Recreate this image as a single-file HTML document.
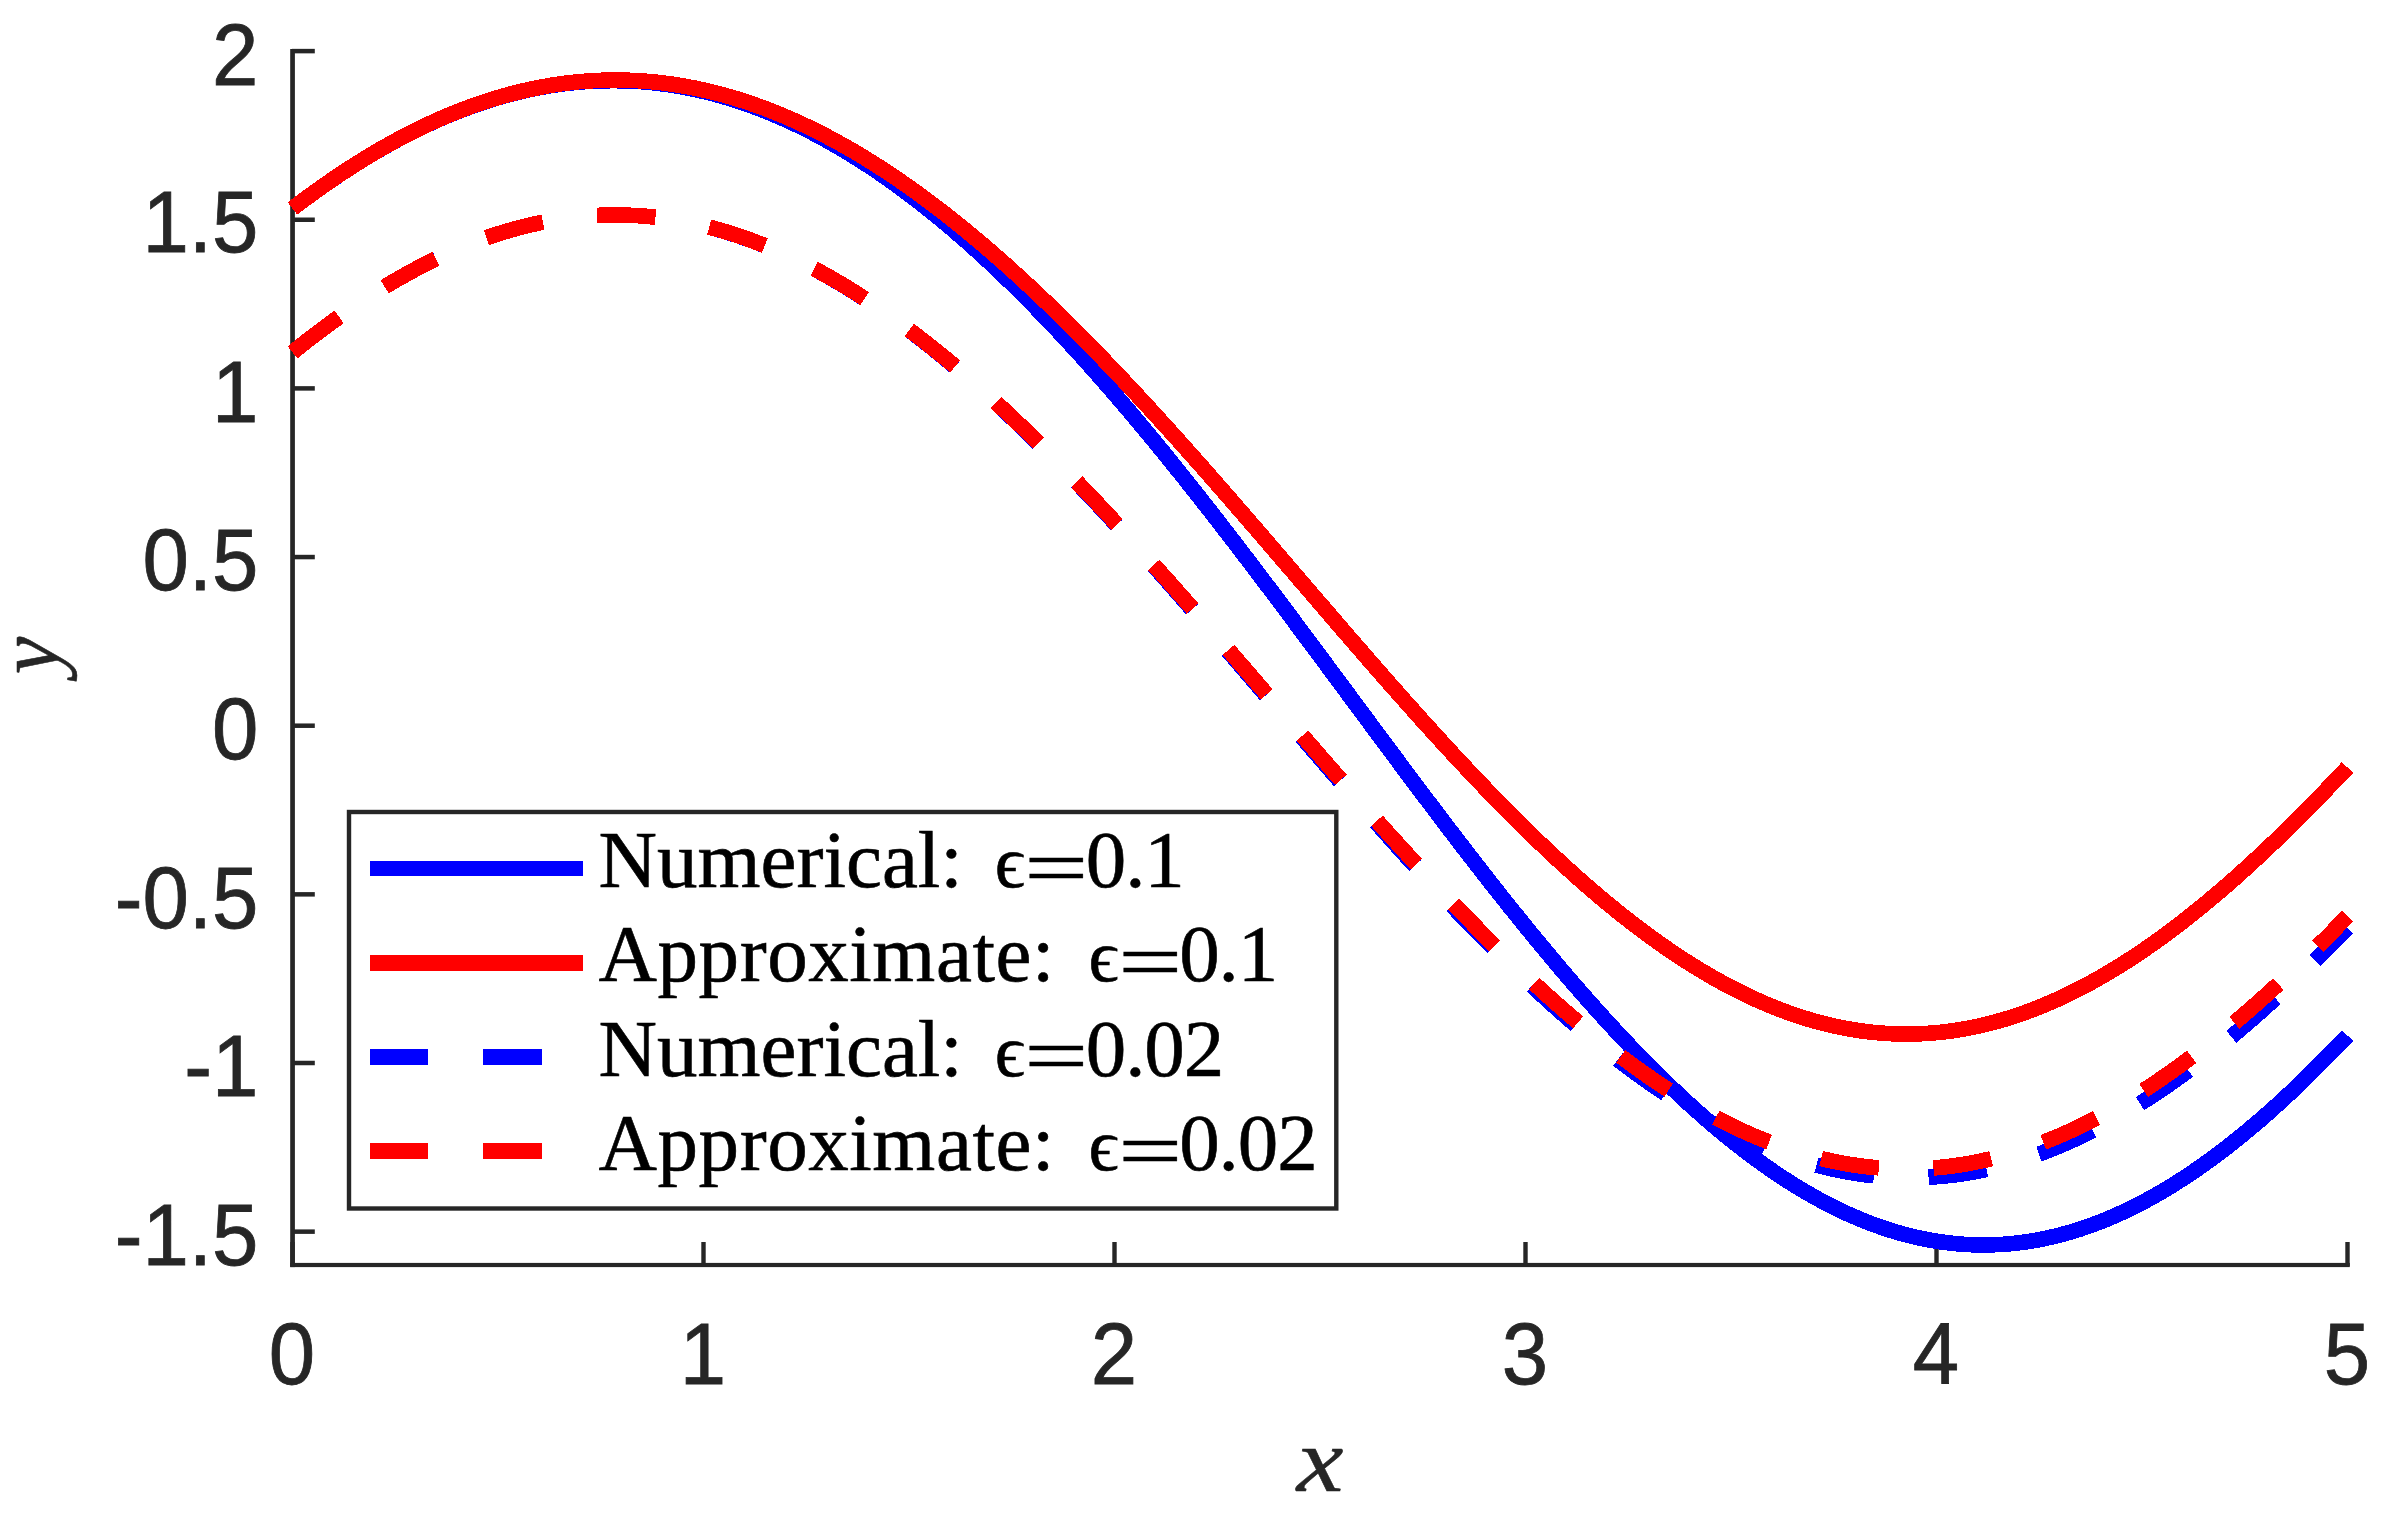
<!DOCTYPE html>
<html><head><meta charset="utf-8"><title>plot</title>
<style>html,body{margin:0;padding:0;background:#fff}svg{display:block}.t{font-family:"Liberation Sans",sans-serif;font-size:87px;fill:#262626;stroke:#262626;stroke-width:0.8px}.l{font-family:"Liberation Serif",serif;font-size:81px;fill:#000;stroke:#000;stroke-width:0.6px}.m{font-family:"Liberation Serif",serif;font-style:italic;fill:#262626;stroke:#262626;stroke-width:0.6px}</style></head><body>
<svg width="2400" height="1518" viewBox="0 0 2400 1518">
<rect width="2400" height="1518" fill="#fff"/>
<g fill="#262626">
<rect x="290.2" y="49" width="4.7" height="1218.1"/>
<rect x="290.2" y="1262.9" width="2059.6" height="4.2"/>
<rect x="292" y="48.85" width="22.8" height="4.5"/>
<rect x="292" y="217.50" width="22.8" height="4.5"/>
<rect x="292" y="386.15" width="22.8" height="4.5"/>
<rect x="292" y="554.80" width="22.8" height="4.5"/>
<rect x="292" y="723.45" width="22.8" height="4.5"/>
<rect x="292" y="892.10" width="22.8" height="4.5"/>
<rect x="292" y="1060.75" width="22.8" height="4.5"/>
<rect x="292" y="1229.40" width="22.8" height="4.5"/>
<rect x="290.3" y="1242" width="4.4" height="24"/>
<rect x="701.3" y="1242" width="4.4" height="24"/>
<rect x="1112.3" y="1242" width="4.4" height="24"/>
<rect x="1523.3" y="1242" width="4.4" height="24"/>
<rect x="1934.3" y="1242" width="4.4" height="24"/>
<rect x="2345.3" y="1242" width="4.4" height="24"/>
</g>
<g fill="none" stroke-width="15.6" stroke-linejoin="round" shape-rendering="crispEdges">
<path d="M292.50,208.51 L297.64,204.60 L302.77,200.74 L307.91,196.94 L313.05,193.20 L318.19,189.51 L323.32,185.87 L328.46,182.29 L333.60,178.77 L338.74,175.30 L343.88,171.89 L349.01,168.54 L354.15,165.24 L359.29,162.01 L364.43,158.83 L369.56,155.71 L374.70,152.65 L379.84,149.65 L384.98,146.71 L390.11,143.83 L395.25,141.01 L400.39,138.25 L405.52,135.55 L410.66,132.92 L415.80,130.34 L420.94,127.83 L426.08,125.38 L431.21,122.99 L436.35,120.67 L441.49,118.41 L446.62,116.21 L451.76,114.08 L456.90,112.01 L462.04,110.00 L467.18,108.06 L472.31,106.18 L477.45,104.37 L482.59,102.62 L487.73,100.94 L492.86,99.33 L498.00,97.78 L503.14,96.29 L508.27,94.88 L513.41,93.53 L518.55,92.24 L523.69,91.03 L528.83,89.87 L533.96,88.79 L539.10,87.78 L544.24,86.83 L549.38,85.95 L554.51,85.13 L559.65,84.39 L564.79,83.71 L569.92,83.10 L575.06,82.56 L580.20,82.09 L585.34,81.68 L590.48,81.35 L595.61,81.08 L600.75,80.88 L605.89,80.75 L611.03,80.69 L616.16,80.70 L621.30,80.78 L626.44,80.92 L631.58,81.14 L636.71,81.42 L641.85,81.78 L646.99,82.20 L652.12,82.69 L657.26,83.26 L662.40,83.89 L667.54,84.59 L672.67,85.36 L677.81,86.20 L682.95,87.11 L688.09,88.09 L693.23,89.13 L698.36,90.25 L703.50,91.44 L708.64,92.69 L713.78,94.02 L718.91,95.41 L724.05,96.87 L729.19,98.40 L734.33,100.00 L739.46,101.67 L744.60,103.41 L749.74,105.22 L754.88,107.09 L760.01,109.03 L765.15,111.05 L770.29,113.13 L775.42,115.27 L780.56,117.49 L785.70,119.77 L790.84,122.12 L795.98,124.54 L801.11,127.03 L806.25,129.58 L811.39,132.20 L816.53,134.88 L821.66,137.64 L826.80,140.46 L831.94,143.34 L837.08,146.29 L842.21,149.31 L847.35,152.39 L852.49,155.54 L857.62,158.75 L862.76,162.02 L867.90,165.36 L873.04,168.77 L878.18,172.24 L883.31,175.77 L888.45,179.36 L893.59,183.02 L898.73,186.74 L903.86,190.52 L909.00,194.37 L914.14,198.27 L919.28,202.24 L924.41,206.27 L929.55,210.36 L934.69,214.51 L939.83,218.71 L944.96,222.98 L950.10,227.31 L955.24,231.69 L960.38,236.13 L965.51,240.63 L970.65,245.19 L975.79,249.80 L980.93,254.47 L986.06,259.20 L991.20,263.98 L996.34,268.81 L1001.48,273.70 L1006.61,278.65 L1011.75,283.64 L1016.89,288.69 L1022.03,293.79 L1027.16,298.95 L1032.30,304.15 L1037.44,309.41 L1042.58,314.71 L1047.71,320.07 L1052.85,325.47 L1057.99,330.92 L1063.12,336.42 L1068.26,341.96 L1073.40,347.56 L1078.54,353.19 L1083.68,358.88 L1088.81,364.60 L1093.95,370.38 L1099.09,376.19 L1104.22,382.05 L1109.36,387.94 L1114.50,393.88 L1119.64,399.86 L1124.78,405.88 L1129.91,411.94 L1135.05,418.04 L1140.19,424.17 L1145.33,430.34 L1150.46,436.55 L1155.60,442.79 L1160.74,449.06 L1165.88,455.37 L1171.01,461.71 L1176.15,468.09 L1181.29,474.49 L1186.43,480.93 L1191.56,487.39 L1196.70,493.89 L1201.84,500.41 L1206.97,506.96 L1212.11,513.53 L1217.25,520.13 L1222.39,526.76 L1227.53,533.41 L1232.66,540.08 L1237.80,546.77 L1242.94,553.48 L1248.08,560.22 L1253.21,566.97 L1258.35,573.74 L1263.49,580.53 L1268.62,587.33 L1273.76,594.15 L1278.90,600.99 L1284.04,607.83 L1289.18,614.69 L1294.31,621.57 L1299.45,628.45 L1304.59,635.34 L1309.72,642.24 L1314.86,649.15 L1320.00,656.06 L1325.14,662.98 L1330.28,669.91 L1335.41,676.84 L1340.55,683.77 L1345.69,690.70 L1350.83,697.64 L1355.96,704.57 L1361.10,711.50 L1366.24,718.43 L1371.38,725.36 L1376.51,732.28 L1381.65,739.20 L1386.79,746.11 L1391.93,753.01 L1397.06,759.90 L1402.20,766.79 L1407.34,773.66 L1412.48,780.52 L1417.61,787.37 L1422.75,794.20 L1427.89,801.02 L1433.03,807.83 L1438.16,814.61 L1443.30,821.38 L1448.44,828.13 L1453.58,834.86 L1458.71,841.57 L1463.85,848.25 L1468.99,854.92 L1474.12,861.55 L1479.26,868.17 L1484.40,874.75 L1489.54,881.31 L1494.68,887.84 L1499.81,894.34 L1504.95,900.81 L1510.09,907.25 L1515.23,913.65 L1520.36,920.02 L1525.50,926.36 L1530.64,932.66 L1535.78,938.92 L1540.91,945.15 L1546.05,951.33 L1551.19,957.48 L1556.33,963.59 L1561.46,969.65 L1566.60,975.67 L1571.74,981.65 L1576.88,987.58 L1582.01,993.47 L1587.15,999.30 L1592.29,1005.10 L1597.43,1010.84 L1602.56,1016.53 L1607.70,1022.17 L1612.84,1027.76 L1617.98,1033.30 L1623.11,1038.78 L1628.25,1044.21 L1633.39,1049.59 L1638.53,1054.90 L1643.66,1060.16 L1648.80,1065.37 L1653.94,1070.51 L1659.08,1075.59 L1664.21,1080.61 L1669.35,1085.57 L1674.49,1090.47 L1679.62,1095.31 L1684.76,1100.08 L1689.90,1104.78 L1695.04,1109.42 L1700.18,1114.00 L1705.31,1118.50 L1710.45,1122.94 L1715.59,1127.31 L1720.73,1131.61 L1725.86,1135.84 L1731.00,1140.00 L1736.14,1144.09 L1741.28,1148.10 L1746.41,1152.04 L1751.55,1155.91 L1756.69,1159.70 L1761.83,1163.42 L1766.96,1167.06 L1772.10,1170.62 L1777.24,1174.11 L1782.38,1177.52 L1787.51,1180.85 L1792.65,1184.10 L1797.79,1187.28 L1802.93,1190.37 L1808.06,1193.38 L1813.20,1196.31 L1818.34,1199.16 L1823.48,1201.93 L1828.61,1204.61 L1833.75,1207.21 L1838.89,1209.73 L1844.03,1212.17 L1849.16,1214.52 L1854.30,1216.78 L1859.44,1218.96 L1864.58,1221.06 L1869.71,1223.06 L1874.85,1224.99 L1879.99,1226.82 L1885.12,1228.57 L1890.26,1230.23 L1895.40,1231.80 L1900.54,1233.29 L1905.68,1234.69 L1910.81,1236.00 L1915.95,1237.22 L1921.09,1238.35 L1926.23,1239.39 L1931.36,1240.35 L1936.50,1241.21 L1941.64,1241.99 L1946.78,1242.67 L1951.91,1243.27 L1957.05,1243.77 L1962.19,1244.19 L1967.33,1244.52 L1972.46,1244.75 L1977.60,1244.90 L1982.74,1244.95 L1987.88,1244.92 L1993.01,1244.80 L1998.15,1244.58 L2003.29,1244.28 L2008.42,1243.89 L2013.56,1243.40 L2018.70,1242.83 L2023.84,1242.17 L2028.98,1241.41 L2034.11,1240.57 L2039.25,1239.64 L2044.39,1238.62 L2049.53,1237.51 L2054.66,1236.31 L2059.80,1235.03 L2064.94,1233.65 L2070.07,1232.19 L2075.21,1230.64 L2080.35,1229.01 L2085.49,1227.28 L2090.62,1225.47 L2095.76,1223.57 L2100.90,1221.59 L2106.04,1219.52 L2111.18,1217.37 L2116.31,1215.13 L2121.45,1212.81 L2126.59,1210.40 L2131.73,1207.91 L2136.86,1205.33 L2142.00,1202.67 L2147.14,1199.93 L2152.28,1197.11 L2157.41,1194.21 L2162.55,1191.22 L2167.69,1188.16 L2172.82,1185.02 L2177.96,1181.79 L2183.10,1178.49 L2188.24,1175.11 L2193.38,1171.66 L2198.51,1168.12 L2203.65,1164.51 L2208.79,1160.83 L2213.93,1157.07 L2219.06,1153.23 L2224.20,1149.33 L2229.34,1145.35 L2234.48,1141.29 L2239.61,1137.17 L2244.75,1132.98 L2249.89,1128.71 L2255.03,1124.38 L2260.16,1119.98 L2265.30,1115.51 L2270.44,1110.98 L2275.57,1106.38 L2280.71,1101.71 L2285.85,1096.98 L2290.99,1092.19 L2296.12,1087.33 L2301.26,1082.41 L2306.40,1077.43 L2311.54,1072.39 L2316.68,1067.30 L2321.81,1062.14 L2326.95,1056.93 L2332.09,1051.66 L2337.23,1046.34 L2342.36,1040.96 L2347.50,1035.53" stroke="#0000ff"/>
<path d="M292.50,208.51 L297.64,204.60 L302.77,200.74 L307.91,196.94 L313.05,193.19 L318.19,189.50 L323.32,185.86 L328.46,182.28 L333.60,178.75 L338.74,175.28 L343.88,171.87 L349.01,168.51 L354.15,165.21 L359.29,161.97 L364.43,158.79 L369.56,155.66 L374.70,152.60 L379.84,149.59 L384.98,146.65 L390.11,143.76 L395.25,140.93 L400.39,138.17 L405.52,135.46 L410.66,132.82 L415.80,130.24 L420.94,127.72 L426.08,125.27 L431.21,122.87 L436.35,120.54 L441.49,118.27 L446.62,116.07 L451.76,113.93 L456.90,111.85 L462.04,109.83 L467.18,107.88 L472.31,106.00 L477.45,104.18 L482.59,102.42 L487.73,100.73 L492.86,99.11 L498.00,97.55 L503.14,96.05 L508.27,94.63 L513.41,93.26 L518.55,91.97 L523.69,90.74 L528.83,89.57 L533.96,88.48 L539.10,87.45 L544.24,86.48 L549.38,85.59 L554.51,84.76 L559.65,83.99 L564.79,83.30 L569.92,82.67 L575.06,82.10 L580.20,81.61 L585.34,81.18 L590.48,80.82 L595.61,80.53 L600.75,80.31 L605.89,80.15 L611.03,80.06 L616.16,80.04 L621.30,80.08 L626.44,80.19 L631.58,80.37 L636.71,80.62 L641.85,80.94 L646.99,81.32 L652.12,81.77 L657.26,82.29 L662.40,82.87 L667.54,83.52 L672.67,84.24 L677.81,85.03 L682.95,85.88 L688.09,86.80 L693.23,87.79 L698.36,88.84 L703.50,89.96 L708.64,91.14 L713.78,92.40 L718.91,93.71 L724.05,95.10 L729.19,96.55 L734.33,98.07 L739.46,99.65 L744.60,101.29 L749.74,103.01 L754.88,104.78 L760.01,106.63 L765.15,108.53 L770.29,110.50 L775.42,112.54 L780.56,114.64 L785.70,116.80 L790.84,119.03 L795.98,121.32 L801.11,123.67 L806.25,126.08 L811.39,128.56 L816.53,131.10 L821.66,133.70 L826.80,136.37 L831.94,139.09 L837.08,141.88 L842.21,144.72 L847.35,147.63 L852.49,150.60 L857.62,153.62 L862.76,156.71 L867.90,159.85 L873.04,163.05 L878.18,166.31 L883.31,169.63 L888.45,173.01 L893.59,176.44 L898.73,179.93 L903.86,183.48 L909.00,187.08 L914.14,190.74 L919.28,194.45 L924.41,198.21 L929.55,202.03 L934.69,205.91 L939.83,209.83 L944.96,213.81 L950.10,217.84 L955.24,221.93 L960.38,226.06 L965.51,230.24 L970.65,234.48 L975.79,238.76 L980.93,243.09 L986.06,247.48 L991.20,251.90 L996.34,256.38 L1001.48,260.90 L1006.61,265.47 L1011.75,270.09 L1016.89,274.75 L1022.03,279.45 L1027.16,284.20 L1032.30,288.99 L1037.44,293.82 L1042.58,298.70 L1047.71,303.61 L1052.85,308.57 L1057.99,313.56 L1063.12,318.60 L1068.26,323.67 L1073.40,328.79 L1078.54,333.93 L1083.68,339.12 L1088.81,344.34 L1093.95,349.60 L1099.09,354.89 L1104.22,360.21 L1109.36,365.57 L1114.50,370.96 L1119.64,376.38 L1124.78,381.83 L1129.91,387.31 L1135.05,392.82 L1140.19,398.36 L1145.33,403.92 L1150.46,409.51 L1155.60,415.13 L1160.74,420.77 L1165.88,426.44 L1171.01,432.13 L1176.15,437.84 L1181.29,443.58 L1186.43,449.33 L1191.56,455.11 L1196.70,460.90 L1201.84,466.72 L1206.97,472.55 L1212.11,478.39 L1217.25,484.25 L1222.39,490.13 L1227.53,496.02 L1232.66,501.93 L1237.80,507.84 L1242.94,513.77 L1248.08,519.71 L1253.21,525.65 L1258.35,531.61 L1263.49,537.57 L1268.62,543.54 L1273.76,549.52 L1278.90,555.50 L1284.04,561.48 L1289.18,567.46 L1294.31,573.45 L1299.45,579.44 L1304.59,585.43 L1309.72,591.42 L1314.86,597.40 L1320.00,603.39 L1325.14,609.36 L1330.28,615.34 L1335.41,621.31 L1340.55,627.27 L1345.69,633.22 L1350.83,639.17 L1355.96,645.10 L1361.10,651.02 L1366.24,656.94 L1371.38,662.83 L1376.51,668.72 L1381.65,674.59 L1386.79,680.45 L1391.93,686.28 L1397.06,692.10 L1402.20,697.91 L1407.34,703.69 L1412.48,709.45 L1417.61,715.19 L1422.75,720.91 L1427.89,726.60 L1433.03,732.27 L1438.16,737.91 L1443.30,743.53 L1448.44,749.12 L1453.58,754.68 L1458.71,760.21 L1463.85,765.71 L1468.99,771.18 L1474.12,776.62 L1479.26,782.02 L1484.40,787.39 L1489.54,792.72 L1494.68,798.02 L1499.81,803.28 L1504.95,808.50 L1510.09,813.68 L1515.23,818.83 L1520.36,823.93 L1525.50,828.99 L1530.64,834.01 L1535.78,838.98 L1540.91,843.91 L1546.05,848.79 L1551.19,853.63 L1556.33,858.42 L1561.46,863.16 L1566.60,867.86 L1571.74,872.50 L1576.88,877.09 L1582.01,881.63 L1587.15,886.12 L1592.29,890.55 L1597.43,894.94 L1602.56,899.26 L1607.70,903.53 L1612.84,907.75 L1617.98,911.90 L1623.11,916.00 L1628.25,920.04 L1633.39,924.02 L1638.53,927.94 L1643.66,931.80 L1648.80,935.59 L1653.94,939.33 L1659.08,943.00 L1664.21,946.61 L1669.35,950.15 L1674.49,953.62 L1679.62,957.04 L1684.76,960.38 L1689.90,963.66 L1695.04,966.87 L1700.18,970.01 L1705.31,973.08 L1710.45,976.08 L1715.59,979.01 L1720.73,981.87 L1725.86,984.66 L1731.00,987.38 L1736.14,990.02 L1741.28,992.60 L1746.41,995.09 L1751.55,997.52 L1756.69,999.87 L1761.83,1002.14 L1766.96,1004.34 L1772.10,1006.47 L1777.24,1008.52 L1782.38,1010.49 L1787.51,1012.38 L1792.65,1014.20 L1797.79,1015.94 L1802.93,1017.60 L1808.06,1019.18 L1813.20,1020.69 L1818.34,1022.11 L1823.48,1023.46 L1828.61,1024.73 L1833.75,1025.92 L1838.89,1027.02 L1844.03,1028.05 L1849.16,1029.00 L1854.30,1029.86 L1859.44,1030.65 L1864.58,1031.35 L1869.71,1031.98 L1874.85,1032.52 L1879.99,1032.98 L1885.12,1033.36 L1890.26,1033.66 L1895.40,1033.87 L1900.54,1034.01 L1905.68,1034.06 L1910.81,1034.04 L1915.95,1033.93 L1921.09,1033.74 L1926.23,1033.46 L1931.36,1033.11 L1936.50,1032.67 L1941.64,1032.16 L1946.78,1031.56 L1951.91,1030.88 L1957.05,1030.12 L1962.19,1029.28 L1967.33,1028.36 L1972.46,1027.36 L1977.60,1026.28 L1982.74,1025.11 L1987.88,1023.87 L1993.01,1022.55 L1998.15,1021.15 L2003.29,1019.67 L2008.42,1018.11 L2013.56,1016.48 L2018.70,1014.76 L2023.84,1012.97 L2028.98,1011.10 L2034.11,1009.15 L2039.25,1007.13 L2044.39,1005.03 L2049.53,1002.85 L2054.66,1000.60 L2059.80,998.28 L2064.94,995.88 L2070.07,993.40 L2075.21,990.85 L2080.35,988.23 L2085.49,985.54 L2090.62,982.77 L2095.76,979.93 L2100.90,977.02 L2106.04,974.04 L2111.18,970.99 L2116.31,967.87 L2121.45,964.69 L2126.59,961.43 L2131.73,958.11 L2136.86,954.72 L2142.00,951.26 L2147.14,947.74 L2152.28,944.15 L2157.41,940.50 L2162.55,936.79 L2167.69,933.01 L2172.82,929.17 L2177.96,925.27 L2183.10,921.31 L2188.24,917.29 L2193.38,913.21 L2198.51,909.08 L2203.65,904.88 L2208.79,900.63 L2213.93,896.32 L2219.06,891.96 L2224.20,887.54 L2229.34,883.07 L2234.48,878.54 L2239.61,873.97 L2244.75,869.34 L2249.89,864.66 L2255.03,859.94 L2260.16,855.16 L2265.30,850.34 L2270.44,845.47 L2275.57,840.56 L2280.71,835.60 L2285.85,830.59 L2290.99,825.55 L2296.12,820.46 L2301.26,815.33 L2306.40,810.16 L2311.54,804.95 L2316.68,799.70 L2321.81,794.41 L2326.95,789.09 L2332.09,783.73 L2337.23,778.34 L2342.36,772.91 L2347.50,767.46" stroke="#ff0000"/>
<path d="M292.50,352.42 L297.64,348.29 L302.77,344.21 L307.91,340.18 L313.05,336.21 L318.19,332.29 L323.32,328.43 L328.46,324.63 L333.60,320.88 L338.74,317.19 L343.88,313.56 L349.01,309.98 L354.15,306.47 L359.29,303.01 L364.43,299.62 L369.56,296.28 L374.70,293.01 L379.84,289.80 L384.98,286.65 L390.11,283.56 L395.25,280.54 L400.39,277.58 L405.52,274.68 L410.66,271.85 L415.80,269.08 L420.94,266.38 L426.08,263.74 L431.21,261.17 L436.35,258.67 L441.49,256.23 L446.62,253.86 L451.76,251.55 L456.90,249.32 L462.04,247.15 L467.18,245.05 L472.31,243.02 L477.45,241.06 L482.59,239.16 L487.73,237.34 L492.86,235.59 L498.00,233.90 L503.14,232.29 L508.27,230.75 L513.41,229.28 L518.55,227.88 L523.69,226.55 L528.83,225.29 L533.96,224.11 L539.10,222.99 L544.24,221.95 L549.38,220.98 L554.51,220.08 L559.65,219.26 L564.79,218.50 L569.92,217.82 L575.06,217.22 L580.20,216.68 L585.34,216.22 L590.48,215.83 L595.61,215.52 L600.75,215.27 L605.89,215.10 L611.03,215.01 L616.16,214.99 L621.30,215.04 L626.44,215.16 L631.58,215.36 L636.71,215.63 L641.85,215.97 L646.99,216.38 L652.12,216.87 L657.26,217.44 L662.40,218.07 L667.54,218.78 L672.67,219.56 L677.81,220.41 L682.95,221.34 L688.09,222.33 L693.23,223.40 L698.36,224.54 L703.50,225.76 L708.64,227.04 L713.78,228.40 L718.91,229.83 L724.05,231.33 L729.19,232.90 L734.33,234.54 L739.46,236.25 L744.60,238.03 L749.74,239.88 L754.88,241.80 L760.01,243.79 L765.15,245.85 L770.29,247.98 L775.42,250.17 L780.56,252.44 L785.70,254.77 L790.84,257.17 L795.98,259.64 L801.11,262.17 L806.25,264.77 L811.39,267.43 L816.53,270.17 L821.66,272.96 L826.80,275.82 L831.94,278.75 L837.08,281.74 L842.21,284.79 L847.35,287.91 L852.49,291.09 L857.62,294.33 L862.76,297.63 L867.90,300.99 L873.04,304.42 L878.18,307.90 L883.31,311.44 L888.45,315.05 L893.59,318.71 L898.73,322.43 L903.86,326.21 L909.00,330.04 L914.14,333.93 L919.28,337.88 L924.41,341.88 L929.55,345.94 L934.69,350.05 L939.83,354.21 L944.96,358.43 L950.10,362.69 L955.24,367.01 L960.38,371.39 L965.51,375.81 L970.65,380.28 L975.79,384.80 L980.93,389.36 L986.06,393.98 L991.20,398.64 L996.34,403.35 L1001.48,408.10 L1006.61,412.90 L1011.75,417.75 L1016.89,422.63 L1022.03,427.56 L1027.16,432.53 L1032.30,437.54 L1037.44,442.59 L1042.58,447.69 L1047.71,452.82 L1052.85,457.98 L1057.99,463.19 L1063.12,468.43 L1068.26,473.71 L1073.40,479.02 L1078.54,484.37 L1083.68,489.75 L1088.81,495.16 L1093.95,500.60 L1099.09,506.08 L1104.22,511.58 L1109.36,517.11 L1114.50,522.68 L1119.64,528.27 L1124.78,533.88 L1129.91,539.52 L1135.05,545.19 L1140.19,550.88 L1145.33,556.59 L1150.46,562.33 L1155.60,568.09 L1160.74,573.87 L1165.88,579.66 L1171.01,585.48 L1176.15,591.31 L1181.29,597.17 L1186.43,603.03 L1191.56,608.91 L1196.70,614.81 L1201.84,620.72 L1206.97,626.64 L1212.11,632.58 L1217.25,638.52 L1222.39,644.48 L1227.53,650.44 L1232.66,656.41 L1237.80,662.39 L1242.94,668.37 L1248.08,674.36 L1253.21,680.35 L1258.35,686.35 L1263.49,692.35 L1268.62,698.35 L1273.76,704.35 L1278.90,710.35 L1284.04,716.35 L1289.18,722.34 L1294.31,728.34 L1299.45,734.32 L1304.59,740.31 L1309.72,746.28 L1314.86,752.25 L1320.00,758.22 L1325.14,764.17 L1330.28,770.11 L1335.41,776.05 L1340.55,781.97 L1345.69,787.87 L1350.83,793.77 L1355.96,799.65 L1361.10,805.51 L1366.24,811.36 L1371.38,817.19 L1376.51,823.01 L1381.65,828.80 L1386.79,834.57 L1391.93,840.33 L1397.06,846.06 L1402.20,851.77 L1407.34,857.45 L1412.48,863.11 L1417.61,868.75 L1422.75,874.35 L1427.89,879.94 L1433.03,885.49 L1438.16,891.01 L1443.30,896.51 L1448.44,901.97 L1453.58,907.40 L1458.71,912.80 L1463.85,918.17 L1468.99,923.50 L1474.12,928.80 L1479.26,934.06 L1484.40,939.28 L1489.54,944.47 L1494.68,949.61 L1499.81,954.72 L1504.95,959.79 L1510.09,964.82 L1515.23,969.81 L1520.36,974.75 L1525.50,979.65 L1530.64,984.51 L1535.78,989.32 L1540.91,994.09 L1546.05,998.81 L1551.19,1003.48 L1556.33,1008.10 L1561.46,1012.68 L1566.60,1017.21 L1571.74,1021.68 L1576.88,1026.11 L1582.01,1030.48 L1587.15,1034.80 L1592.29,1039.07 L1597.43,1043.29 L1602.56,1047.45 L1607.70,1051.56 L1612.84,1055.61 L1617.98,1059.60 L1623.11,1063.54 L1628.25,1067.42 L1633.39,1071.24 L1638.53,1075.00 L1643.66,1078.71 L1648.80,1082.35 L1653.94,1085.93 L1659.08,1089.45 L1664.21,1092.91 L1669.35,1096.31 L1674.49,1099.64 L1679.62,1102.91 L1684.76,1106.12 L1689.90,1109.26 L1695.04,1112.34 L1700.18,1115.35 L1705.31,1118.30 L1710.45,1121.18 L1715.59,1123.99 L1720.73,1126.73 L1725.86,1129.41 L1731.00,1132.02 L1736.14,1134.56 L1741.28,1137.03 L1746.41,1139.43 L1751.55,1141.76 L1756.69,1144.02 L1761.83,1146.21 L1766.96,1148.33 L1772.10,1150.38 L1777.24,1152.36 L1782.38,1154.26 L1787.51,1156.09 L1792.65,1157.85 L1797.79,1159.54 L1802.93,1161.15 L1808.06,1162.69 L1813.20,1164.16 L1818.34,1165.55 L1823.48,1166.86 L1828.61,1168.11 L1833.75,1169.28 L1838.89,1170.37 L1844.03,1171.39 L1849.16,1172.33 L1854.30,1173.20 L1859.44,1173.99 L1864.58,1174.71 L1869.71,1175.35 L1874.85,1175.91 L1879.99,1176.40 L1885.12,1176.81 L1890.26,1177.15 L1895.40,1177.41 L1900.54,1177.60 L1905.68,1177.71 L1910.81,1177.74 L1915.95,1177.69 L1921.09,1177.57 L1926.23,1177.38 L1931.36,1177.11 L1936.50,1176.76 L1941.64,1176.33 L1946.78,1175.83 L1951.91,1175.25 L1957.05,1174.60 L1962.19,1173.87 L1967.33,1173.07 L1972.46,1172.19 L1977.60,1171.23 L1982.74,1170.21 L1987.88,1169.10 L1993.01,1167.92 L1998.15,1166.67 L2003.29,1165.34 L2008.42,1163.93 L2013.56,1162.46 L2018.70,1160.91 L2023.84,1159.28 L2028.98,1157.58 L2034.11,1155.81 L2039.25,1153.97 L2044.39,1152.06 L2049.53,1150.07 L2054.66,1148.01 L2059.80,1145.88 L2064.94,1143.68 L2070.07,1141.40 L2075.21,1139.06 L2080.35,1136.65 L2085.49,1134.17 L2090.62,1131.62 L2095.76,1129.00 L2100.90,1126.31 L2106.04,1123.55 L2111.18,1120.73 L2116.31,1117.84 L2121.45,1114.88 L2126.59,1111.86 L2131.73,1108.77 L2136.86,1105.62 L2142.00,1102.40 L2147.14,1099.12 L2152.28,1095.77 L2157.41,1092.37 L2162.55,1088.90 L2167.69,1085.37 L2172.82,1081.77 L2177.96,1078.12 L2183.10,1074.41 L2188.24,1070.63 L2193.38,1066.80 L2198.51,1062.91 L2203.65,1058.96 L2208.79,1054.96 L2213.93,1050.90 L2219.06,1046.78 L2224.20,1042.61 L2229.34,1038.39 L2234.48,1034.11 L2239.61,1029.78 L2244.75,1025.39 L2249.89,1020.96 L2255.03,1016.47 L2260.16,1011.94 L2265.30,1007.35 L2270.44,1002.72 L2275.57,998.04 L2280.71,993.31 L2285.85,988.53 L2290.99,983.71 L2296.12,978.85 L2301.26,973.94 L2306.40,968.99 L2311.54,963.99 L2316.68,958.96 L2321.81,953.88 L2326.95,948.77 L2332.09,943.61 L2337.23,938.42 L2342.36,933.19 L2347.50,927.92" stroke="#0000ff" stroke-dasharray="58.6 54.6"/>
<path d="M292.50,352.42 L297.64,348.29 L302.77,344.21 L307.91,340.18 L313.05,336.21 L318.19,332.29 L323.32,328.43 L328.46,324.63 L333.60,320.88 L338.74,317.19 L343.88,313.56 L349.01,309.98 L354.15,306.47 L359.29,303.01 L364.43,299.62 L369.56,296.28 L374.70,293.01 L379.84,289.80 L384.98,286.65 L390.11,283.56 L395.25,280.54 L400.39,277.57 L405.52,274.68 L410.66,271.85 L415.80,269.08 L420.94,266.37 L426.08,263.74 L431.21,261.17 L436.35,258.66 L441.49,256.22 L446.62,253.85 L451.76,251.55 L456.90,249.31 L462.04,247.14 L467.18,245.04 L472.31,243.01 L477.45,241.05 L482.59,239.16 L487.73,237.33 L492.86,235.58 L498.00,233.89 L503.14,232.28 L508.27,230.74 L513.41,229.27 L518.55,227.87 L523.69,226.54 L528.83,225.28 L533.96,224.09 L539.10,222.98 L544.24,221.93 L549.38,220.96 L554.51,220.07 L559.65,219.24 L564.79,218.49 L569.92,217.81 L575.06,217.20 L580.20,216.66 L585.34,216.20 L590.48,215.81 L595.61,215.49 L600.75,215.25 L605.89,215.08 L611.03,214.98 L616.16,214.96 L621.30,215.01 L626.44,215.13 L631.58,215.32 L636.71,215.59 L641.85,215.93 L646.99,216.35 L652.12,216.83 L657.26,217.39 L662.40,218.03 L667.54,218.73 L672.67,219.51 L677.81,220.36 L682.95,221.28 L688.09,222.28 L693.23,223.34 L698.36,224.48 L703.50,225.69 L708.64,226.98 L713.78,228.33 L718.91,229.75 L724.05,231.25 L729.19,232.82 L734.33,234.45 L739.46,236.16 L744.60,237.94 L749.74,239.78 L754.88,241.70 L760.01,243.69 L765.15,245.74 L770.29,247.86 L775.42,250.05 L780.56,252.31 L785.70,254.64 L790.84,257.03 L795.98,259.50 L801.11,262.02 L806.25,264.62 L811.39,267.28 L816.53,270.00 L821.66,272.79 L826.80,275.64 L831.94,278.56 L837.08,281.55 L842.21,284.59 L847.35,287.70 L852.49,290.87 L857.62,294.10 L862.76,297.40 L867.90,300.75 L873.04,304.17 L878.18,307.64 L883.31,311.18 L888.45,314.77 L893.59,318.42 L898.73,322.13 L903.86,325.90 L909.00,329.72 L914.14,333.60 L919.28,337.54 L924.41,341.53 L929.55,345.57 L934.69,349.67 L939.83,353.82 L944.96,358.03 L950.10,362.28 L955.24,366.59 L960.38,370.95 L965.51,375.35 L970.65,379.81 L975.79,384.32 L980.93,388.87 L986.06,393.47 L991.20,398.12 L996.34,402.81 L1001.48,407.55 L1006.61,412.33 L1011.75,417.16 L1016.89,422.03 L1022.03,426.94 L1027.16,431.89 L1032.30,436.88 L1037.44,441.92 L1042.58,446.99 L1047.71,452.10 L1052.85,457.25 L1057.99,462.43 L1063.12,467.66 L1068.26,472.91 L1073.40,478.20 L1078.54,483.53 L1083.68,488.89 L1088.81,494.28 L1093.95,499.70 L1099.09,505.15 L1104.22,510.63 L1109.36,516.14 L1114.50,521.68 L1119.64,527.24 L1124.78,532.84 L1129.91,538.45 L1135.05,544.09 L1140.19,549.76 L1145.33,555.45 L1150.46,561.16 L1155.60,566.89 L1160.74,572.64 L1165.88,578.41 L1171.01,584.19 L1176.15,590.00 L1181.29,595.82 L1186.43,601.66 L1191.56,607.51 L1196.70,613.38 L1201.84,619.26 L1206.97,625.15 L1212.11,631.05 L1217.25,636.96 L1222.39,642.88 L1227.53,648.81 L1232.66,654.75 L1237.80,660.70 L1242.94,666.64 L1248.08,672.60 L1253.21,678.56 L1258.35,684.52 L1263.49,690.48 L1268.62,696.44 L1273.76,702.41 L1278.90,708.37 L1284.04,714.33 L1289.18,720.29 L1294.31,726.24 L1299.45,732.19 L1304.59,738.14 L1309.72,744.07 L1314.86,750.00 L1320.00,755.93 L1325.14,761.84 L1330.28,767.74 L1335.41,773.63 L1340.55,779.51 L1345.69,785.38 L1350.83,791.23 L1355.96,797.06 L1361.10,802.88 L1366.24,808.69 L1371.38,814.48 L1376.51,820.24 L1381.65,825.99 L1386.79,831.72 L1391.93,837.43 L1397.06,843.11 L1402.20,848.77 L1407.34,854.41 L1412.48,860.02 L1417.61,865.61 L1422.75,871.17 L1427.89,876.70 L1433.03,882.20 L1438.16,887.68 L1443.30,893.12 L1448.44,898.53 L1453.58,903.92 L1458.71,909.26 L1463.85,914.58 L1468.99,919.86 L1474.12,925.10 L1479.26,930.31 L1484.40,935.48 L1489.54,940.62 L1494.68,945.71 L1499.81,950.76 L1504.95,955.78 L1510.09,960.75 L1515.23,965.68 L1520.36,970.57 L1525.50,975.42 L1530.64,980.22 L1535.78,984.97 L1540.91,989.68 L1546.05,994.35 L1551.19,998.96 L1556.33,1003.53 L1561.46,1008.05 L1566.60,1012.52 L1571.74,1016.94 L1576.88,1021.30 L1582.01,1025.62 L1587.15,1029.88 L1592.29,1034.09 L1597.43,1038.25 L1602.56,1042.35 L1607.70,1046.40 L1612.84,1050.39 L1617.98,1054.32 L1623.11,1058.20 L1628.25,1062.02 L1633.39,1065.78 L1638.53,1069.48 L1643.66,1073.12 L1648.80,1076.71 L1653.94,1080.23 L1659.08,1083.69 L1664.21,1087.09 L1669.35,1090.42 L1674.49,1093.69 L1679.62,1096.90 L1684.76,1100.05 L1689.90,1103.13 L1695.04,1106.14 L1700.18,1109.09 L1705.31,1111.98 L1710.45,1114.79 L1715.59,1117.54 L1720.73,1120.22 L1725.86,1122.84 L1731.00,1125.38 L1736.14,1127.86 L1741.28,1130.27 L1746.41,1132.61 L1751.55,1134.88 L1756.69,1137.08 L1761.83,1139.20 L1766.96,1141.26 L1772.10,1143.24 L1777.24,1145.16 L1782.38,1147.00 L1787.51,1148.77 L1792.65,1150.47 L1797.79,1152.09 L1802.93,1153.64 L1808.06,1155.12 L1813.20,1156.52 L1818.34,1157.85 L1823.48,1159.11 L1828.61,1160.29 L1833.75,1161.39 L1838.89,1162.42 L1844.03,1163.38 L1849.16,1164.26 L1854.30,1165.07 L1859.44,1165.80 L1864.58,1166.46 L1869.71,1167.04 L1874.85,1167.54 L1879.99,1167.97 L1885.12,1168.33 L1890.26,1168.61 L1895.40,1168.81 L1900.54,1168.93 L1905.68,1168.98 L1910.81,1168.96 L1915.95,1168.86 L1921.09,1168.68 L1926.23,1168.42 L1931.36,1168.09 L1936.50,1167.69 L1941.64,1167.21 L1946.78,1166.65 L1951.91,1166.02 L1957.05,1165.31 L1962.19,1164.53 L1967.33,1163.67 L1972.46,1162.74 L1977.60,1161.73 L1982.74,1160.65 L1987.88,1159.49 L1993.01,1158.26 L1998.15,1156.95 L2003.29,1155.57 L2008.42,1154.12 L2013.56,1152.59 L2018.70,1150.99 L2023.84,1149.32 L2028.98,1147.57 L2034.11,1145.75 L2039.25,1143.86 L2044.39,1141.90 L2049.53,1139.87 L2054.66,1137.76 L2059.80,1135.59 L2064.94,1133.34 L2070.07,1131.02 L2075.21,1128.64 L2080.35,1126.18 L2085.49,1123.66 L2090.62,1121.06 L2095.76,1118.40 L2100.90,1115.68 L2106.04,1112.88 L2111.18,1110.02 L2116.31,1107.09 L2121.45,1104.09 L2126.59,1101.04 L2131.73,1097.91 L2136.86,1094.72 L2142.00,1091.47 L2147.14,1088.15 L2152.28,1084.78 L2157.41,1081.34 L2162.55,1077.83 L2167.69,1074.27 L2172.82,1070.65 L2177.96,1066.97 L2183.10,1063.22 L2188.24,1059.42 L2193.38,1055.56 L2198.51,1051.65 L2203.65,1047.68 L2208.79,1043.65 L2213.93,1039.56 L2219.06,1035.42 L2224.20,1031.23 L2229.34,1026.98 L2234.48,1022.68 L2239.61,1018.33 L2244.75,1013.93 L2249.89,1009.48 L2255.03,1004.97 L2260.16,1000.42 L2265.30,995.82 L2270.44,991.17 L2275.57,986.48 L2280.71,981.74 L2285.85,976.95 L2290.99,972.12 L2296.12,967.25 L2301.26,962.33 L2306.40,957.37 L2311.54,952.37 L2316.68,947.32 L2321.81,942.24 L2326.95,937.12 L2332.09,931.96 L2337.23,926.77 L2342.36,921.53 L2347.50,916.26" stroke="#ff0000" stroke-dasharray="58.6 54.6"/>
</g>
<text class="t" transform="translate(258.3,85.0) scale(0.958,1)" text-anchor="end">2</text>
<text class="t" transform="translate(258.3,252.2) scale(0.958,1)" text-anchor="end">1.5</text>
<text class="t" transform="translate(258.3,421.6) scale(0.958,1)" text-anchor="end">1</text>
<text class="t" transform="translate(258.3,590.1) scale(0.958,1)" text-anchor="end">0.5</text>
<text class="t" transform="translate(258.3,758.9) scale(0.958,1)" text-anchor="end">0</text>
<text class="t" transform="translate(258.3,927.6) scale(0.958,1)" text-anchor="end">-0.5</text>
<text class="t" transform="translate(258.3,1096.2) scale(0.958,1)" text-anchor="end">-1</text>
<text class="t" transform="translate(258.3,1264.9) scale(0.958,1)" text-anchor="end">-1.5</text>
<text class="t" transform="translate(292.0,1384.2) scale(0.958,1)" text-anchor="middle">0</text>
<text class="t" transform="translate(703.0,1384.2) scale(0.958,1)" text-anchor="middle">1</text>
<text class="t" transform="translate(1114.0,1384.2) scale(0.958,1)" text-anchor="middle">2</text>
<text class="t" transform="translate(1525.0,1384.2) scale(0.958,1)" text-anchor="middle">3</text>
<text class="t" transform="translate(1936.0,1384.2) scale(0.958,1)" text-anchor="middle">4</text>
<text class="t" transform="translate(2347.0,1384.2) scale(0.958,1)" text-anchor="middle">5</text>
<text class="m" font-size="100" transform="translate(1320,1491) scale(1.05,0.915)" text-anchor="middle">x</text>
<text class="m" font-size="100" transform="translate(57.5,655.4) rotate(-90) scale(0.846,0.895)" text-anchor="middle">y</text>
<rect x="349" y="812" width="987.3" height="396.5" fill="#fff" stroke="#262626" stroke-width="4.4"/>
<path d="M369.7,868.3 H583.2" stroke="#0000ff" stroke-width="15.6" fill="none" shape-rendering="crispEdges"/>
<text class="l" y="887.0" xml:space="preserve"><tspan x="598.5">Numerical: </tspan><tspan x="994.6999999999999" font-size="74.5">ϵ</tspan><tspan x="1024.3" y="894.6" textLength="64" lengthAdjust="spacingAndGlyphs">=</tspan><tspan x="1085.8" y="887.0" letter-spacing="-1.1">0.1</tspan></text>
<path d="M369.7,962.8 H583.2" stroke="#ff0000" stroke-width="15.6" fill="none" shape-rendering="crispEdges"/>
<text class="l" y="981.4" xml:space="preserve"><tspan x="598.5" letter-spacing="0.55">Approximate: </tspan><tspan x="1088.6000000000001" font-size="74.5">ϵ</tspan><tspan x="1118.2" y="989.0" textLength="64" lengthAdjust="spacingAndGlyphs">=</tspan><tspan x="1179.2" y="981.4" letter-spacing="-1.1">0.1</tspan></text>
<path d="M369.7,1057.2 H583.2" stroke="#0000ff" stroke-width="15.6" fill="none" stroke-dasharray="58.6 54.6" shape-rendering="crispEdges"/>
<text class="l" y="1075.8" xml:space="preserve"><tspan x="598.5">Numerical: </tspan><tspan x="994.6999999999999" font-size="74.5">ϵ</tspan><tspan x="1024.3" y="1083.4" textLength="64" lengthAdjust="spacingAndGlyphs">=</tspan><tspan x="1085.8" y="1075.8" letter-spacing="-1.1">0.02</tspan></text>
<path d="M369.7,1151.2 H583.2" stroke="#ff0000" stroke-width="15.6" fill="none" stroke-dasharray="58.6 54.6" shape-rendering="crispEdges"/>
<text class="l" y="1170.2" xml:space="preserve"><tspan x="598.5" letter-spacing="0.55">Approximate: </tspan><tspan x="1088.6000000000001" font-size="74.5">ϵ</tspan><tspan x="1118.2" y="1177.8" textLength="64" lengthAdjust="spacingAndGlyphs">=</tspan><tspan x="1179.2" y="1170.2" letter-spacing="-1.1">0.02</tspan></text>
</svg></body></html>
